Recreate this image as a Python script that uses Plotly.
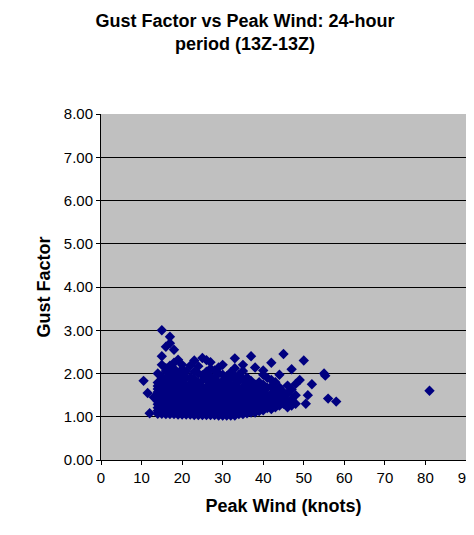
import plotly.graph_objects as go

# gust factor readings grouped by peak wind (knots)
wind_values = [14, 15, 16, 17, 18, 19, 20, 21, 22, 23, 24, 25, 26, 27, 28, 29, 30,
               31, 32, 33, 34, 35, 36, 37, 38, 39, 40, 41, 42, 43, 44, 45, 46, 47, 48]
gust_lists = [
    [1.07, 1.14, 1.21, 1.29, 1.36, 1.43, 1.5, 1.57, 1.64, 1.71, 1.79, 2.0],
    [1.07, 1.13, 1.2, 1.27, 1.33, 1.4, 1.47, 1.53, 1.6, 1.67, 1.73, 1.8, 1.87, 1.93, 2.2, 2.4, 3.0],
    [1.06, 1.13, 1.19, 1.25, 1.31, 1.38, 1.44, 1.5, 1.56, 1.63, 1.69, 1.75, 1.81, 1.88, 2.06, 2.12, 2.62],
    [1.06, 1.12, 1.18, 1.24, 1.29, 1.35, 1.41, 1.47, 1.53, 1.59, 1.65, 1.71, 1.76, 1.82, 2.0, 2.18, 2.7, 2.85],
    [1.06, 1.11, 1.17, 1.22, 1.28, 1.33, 1.39, 1.44, 1.5, 1.56, 1.61, 1.67, 1.78, 1.89, 2.11, 2.25, 2.55],
    [1.05, 1.11, 1.16, 1.21, 1.26, 1.32, 1.37, 1.42, 1.47, 1.53, 1.58, 1.63, 1.74, 1.84, 2.0, 2.32],
    [1.05, 1.1, 1.15, 1.2, 1.25, 1.3, 1.35, 1.4, 1.45, 1.5, 1.55, 1.6, 1.7, 1.8, 1.95, 2.1, 2.2],
    [1.05, 1.1, 1.14, 1.19, 1.24, 1.29, 1.33, 1.38, 1.43, 1.48, 1.52, 1.62, 1.71, 1.9, 2.05],
    [1.05, 1.09, 1.14, 1.18, 1.23, 1.27, 1.32, 1.36, 1.41, 1.45, 1.5, 1.59, 1.68, 1.77, 1.91, 2.18],
    [1.04, 1.09, 1.13, 1.17, 1.22, 1.26, 1.3, 1.35, 1.39, 1.43, 1.52, 1.61, 1.74, 1.87, 2.04, 2.3],
    [1.04, 1.08, 1.13, 1.17, 1.21, 1.25, 1.29, 1.33, 1.38, 1.42, 1.5, 1.58, 1.67, 1.79, 2.0, 2.17],
    [1.04, 1.08, 1.12, 1.16, 1.2, 1.24, 1.28, 1.32, 1.36, 1.4, 1.48, 1.56, 1.68, 1.84, 1.96, 2.36],
    [1.04, 1.08, 1.12, 1.15, 1.19, 1.23, 1.27, 1.31, 1.35, 1.42, 1.5, 1.58, 1.69, 1.85, 2.04, 2.31],
    [1.04, 1.07, 1.11, 1.15, 1.19, 1.22, 1.26, 1.3, 1.37, 1.44, 1.52, 1.63, 1.78, 1.93, 2.11, 2.26],
    [1.04, 1.07, 1.11, 1.14, 1.18, 1.21, 1.25, 1.32, 1.39, 1.46, 1.57, 1.71, 1.89, 2.07],
    [1.03, 1.07, 1.1, 1.14, 1.17, 1.21, 1.24, 1.31, 1.38, 1.45, 1.55, 1.66, 1.79, 2.0, 2.14],
    [1.03, 1.07, 1.1, 1.13, 1.17, 1.2, 1.23, 1.3, 1.37, 1.47, 1.57, 1.7, 1.83, 1.97, 2.2],
    [1.03, 1.06, 1.1, 1.13, 1.16, 1.19, 1.26, 1.32, 1.42, 1.52, 1.65, 1.77, 1.94],
    [1.03, 1.06, 1.09, 1.13, 1.16, 1.22, 1.28, 1.38, 1.47, 1.59, 1.72, 1.88, 2.03],
    [1.03, 1.06, 1.09, 1.12, 1.15, 1.21, 1.3, 1.39, 1.48, 1.61, 1.76, 1.94, 2.12, 2.35],
    [1.06, 1.12, 1.18, 1.24, 1.32, 1.41, 1.53, 1.65, 1.82, 1.97],
    [1.06, 1.11, 1.17, 1.23, 1.31, 1.43, 1.54, 1.69, 1.86, 2.06, 2.2],
    [1.08, 1.14, 1.2, 1.29, 1.37, 1.49, 1.6, 1.77, 1.91],
    [1.1, 1.16, 1.22, 1.3, 1.39, 1.51, 1.66, 1.83, 2.4],
    [1.1, 1.19, 1.26, 1.34, 1.43, 1.57, 1.74, 2.14],
    [1.13, 1.2, 1.29, 1.4, 1.51, 1.63, 1.8],
    [1.15, 1.24, 1.33, 1.46, 1.6, 1.74, 1.97, 2.07],
    [1.2, 1.28, 1.37, 1.5, 1.67, 1.9],
    [1.18, 1.27, 1.4, 1.53, 1.7, 1.85, 2.25],
    [1.22, 1.33, 1.45, 1.62, 1.8],
    [1.26, 1.39, 1.52, 1.68, 1.97],
    [1.3, 1.44, 1.57, 2.45],
    [1.22, 1.35, 1.54, 1.72],
    [1.26, 1.41, 1.63, 2.1],
    [1.3, 1.5, 1.76],
]
extra_wind = [10.5, 12, 13, 11.5, 49, 50, 50.5, 51, 52, 55, 55.3, 56, 58, 81]
extra_gust = [1.83, 1.08, 1.45, 1.55, 1.85, 2.3, 1.3, 1.5, 1.75, 2.0, 1.95, 1.42, 1.35, 1.6]

peak_wind = [w for w, gs in zip(wind_values, gust_lists) for _ in gs] + extra_wind
gust_factor = [g for gs in gust_lists for g in gs] + extra_gust

fig = go.Figure(go.Scatter(
    x=peak_wind, y=gust_factor, mode="markers",
    marker=dict(symbol="diamond", size=8, color="#000080"),
))
fig.update_layout(
    width=474, height=535, showlegend=False,
    paper_bgcolor="white", plot_bgcolor="#c0c0c0",
    margin=dict(l=93, r=16, t=106, b=83),
    font=dict(family="Liberation Sans, Arial", color="black"),
    title=dict(text="<b>Gust Factor vs Peak Wind: 24-hour<br>period (13Z-13Z)</b>",
               x=0.5, xanchor="center", y=0.965, yanchor="top", font=dict(size=18)),
)
fig.update_xaxes(range=[0, 90], dtick=10, showgrid=False, showline=True, linecolor="black",
                 ticks="outside", ticklen=4, tickcolor="black", tickfont=dict(size=15),
                 title=dict(text="<b>Peak Wind (knots)</b>", font=dict(size=18), standoff=14),
                 zeroline=False, automargin=False)
fig.update_yaxes(range=[0, 8], dtick=1, tickformat=".2f", showgrid=True, gridcolor="black",
                 gridwidth=1, showline=True, linecolor="black", ticks="outside", ticklen=4,
                 tickcolor="black", tickfont=dict(size=15),
                 title=dict(text="<b>Gust Factor</b>", font=dict(size=18), standoff=8),
                 zeroline=False, automargin=False)
fig.write_html("out.html")
